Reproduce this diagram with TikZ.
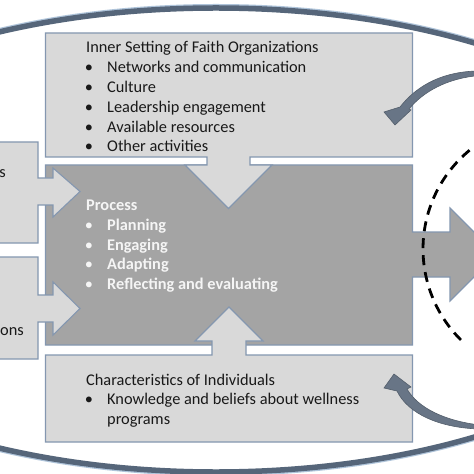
\documentclass[tikz,border=0pt]{standalone}
\usepackage{fontspec}
\setmainfont{Carlito}
\definecolor{boxfill}{RGB}{217,217,217}
\definecolor{procfill}{RGB}{164,164,164}
\definecolor{edgec}{RGB}{132,151,176}
\definecolor{ring}{RGB}{86,102,122}
\definecolor{ringlight}{RGB}{175,196,218}
\definecolor{curvec}{RGB}{104,117,134}
\definecolor{txt}{RGB}{25,25,25}
\definecolor{ptxt}{RGB}{245,245,245}
\begin{document}
\begin{tikzpicture}[x=1bp,y=-1bp,
  shapebox/.style={draw=edgec,line width=1.1bp,line join=miter},
  lbl/.style={anchor=base west,inner sep=0pt,font=\fontsize{16.4}{19.8}\selectfont,text=txt},
  bul/.style={anchor=base,inner sep=0pt,font=\fontsize{16.4}{19.8}\selectfont,text=txt},
  plbl/.style={anchor=base west,inner sep=0pt,font=\fontsize{16.4}{19.8}\selectfont\bfseries,text=ptxt},
  pbul/.style={anchor=base,inner sep=0pt,font=\fontsize{16.4}{19.8}\selectfont,text=ptxt},
  curvearrow/.style={fill=curvec,draw=curvec!80!black,line width=0.6bp,line join=miter}]
\useasboundingbox (0,0) rectangle (474,474);
\clip (0,0) rectangle (474,474);
\fill[white] (0,0) rectangle (474,474);

% outer ring
\draw[ringlight,line width=2bp] (216,240) ellipse [x radius=492, y radius=235];
\draw[ring,line width=5.5bp] (216,240) ellipse [x radius=489, y radius=232];

% process box with right arrow
\filldraw[shapebox,fill=procfill] (45.5,165) -- (412.5,165) -- (412.5,232) -- (450,232) -- (450,208)
  -- (496.5,254.5) -- (450,301) -- (450,277) -- (412.5,277) -- (412.5,345) -- (45.5,345) -- cycle;

% inner setting box with down arrow
\filldraw[shapebox,fill=boxfill] (45.5,33) -- (412.5,33) -- (412.5,157) -- (250,157) -- (250,165)
  -- (272,165) -- (228.5,208.5) -- (185,165) -- (207,165) -- (207,157) -- (45.5,157) -- cycle;

% characteristics box with up arrow
\filldraw[shapebox,fill=boxfill] (45.5,355) -- (212,355) -- (212,341) -- (195,341) -- (229,307)
  -- (263,341) -- (246,341) -- (246,355) -- (412.5,355) -- (412.5,442) -- (45.5,442) -- cycle;

% left boxes with right arrows
\filldraw[shapebox,fill=boxfill] (-10,142) -- (38,142) -- (38,178) -- (53,178) -- (53,168)
  -- (80,191.5) -- (53,217) -- (53,205) -- (38,205) -- (38,243) -- (-10,243) -- cycle;
\filldraw[shapebox,fill=boxfill] (-10,257) -- (38,257) -- (38,295) -- (53,295) -- (53,282)
  -- (80,308.5) -- (53,335) -- (53,322) -- (38,322) -- (38,359) -- (-10,359) -- cycle;

% texts: inner setting
\node[lbl] (inner) at (86,53) {Inner Setting of Faith Organizations};
\node[bul] (ib1) at (89,72.8) {•};
\node[lbl] (i1) at (107,72.8) {Networks and communication};
\node[bul] (ib2) at (89,92.6) {•};
\node[lbl] (i2) at (107,92.6) {Culture};
\node[bul] (ib3) at (89,112.4) {•};
\node[lbl] (i3) at (107,112.4) {Leadership engagement};
\node[bul] (ib4) at (89,132.2) {•};
\node[lbl] (i4) at (107,132.2) {Available resources};
\node[bul] (ib5) at (89,152) {•};
\node[lbl] (i5) at (107,152) {Other activities};

% texts: process
\node[plbl] (proc) at (86,210.5) {Process};
\node[pbul] (pb1) at (89,230.3) {•};
\node[plbl] (p1) at (107,230.3) {Planning};
\node[pbul] (pb2) at (89,250.1) {•};
\node[plbl] (p2) at (107,250.1) {Engaging};
\node[pbul] (pb3) at (89,269.9) {•};
\node[plbl] (p3) at (107,269.9) {Adapting};
\node[pbul] (pb4) at (89,289.7) {•};
\node[plbl] (p4) at (107,289.7) {Reflecting and evaluating};

% texts: characteristics
\node[lbl] (chars) at (86,385) {Characteristics of Individuals};
\node[bul] (cb1) at (89,404.8) {•};
\node[lbl] (c1) at (107,404.8) {Knowledge and beliefs about wellness};
\node[lbl] (c2) at (107,424.6) {programs};

% texts: left boxes (cut off)
\node[lbl,anchor=base east] (lt) at (6,178) {s};
\node[lbl,anchor=base east] (lb) at (24,335) {ons};

% dashed arc
\draw[black,line width=2.8bp,dash pattern=on 10bp off 7bp]
  plot[domain=134.7:237,samples=60,smooth] ({551+128*cos(\x)},{249+128*sin(\x)});

% curved arrows
\filldraw[curvearrow] (480,71) .. controls (445,71) and (418,84) .. (400,107) -- (384,112)
  -- (395,125) -- (411,110) -- (409,109) .. controls (423,92) and (447,78) .. (480,75.5) -- cycle;
\filldraw[curvearrow] (480,425) .. controls (445,421) and (418,408) .. (407,389) -- (411,387)
  -- (394,374) -- (384,388) -- (397,391) .. controls (408,414) and (440,428) .. (480,429) -- cycle;
\end{tikzpicture}
\end{document}
